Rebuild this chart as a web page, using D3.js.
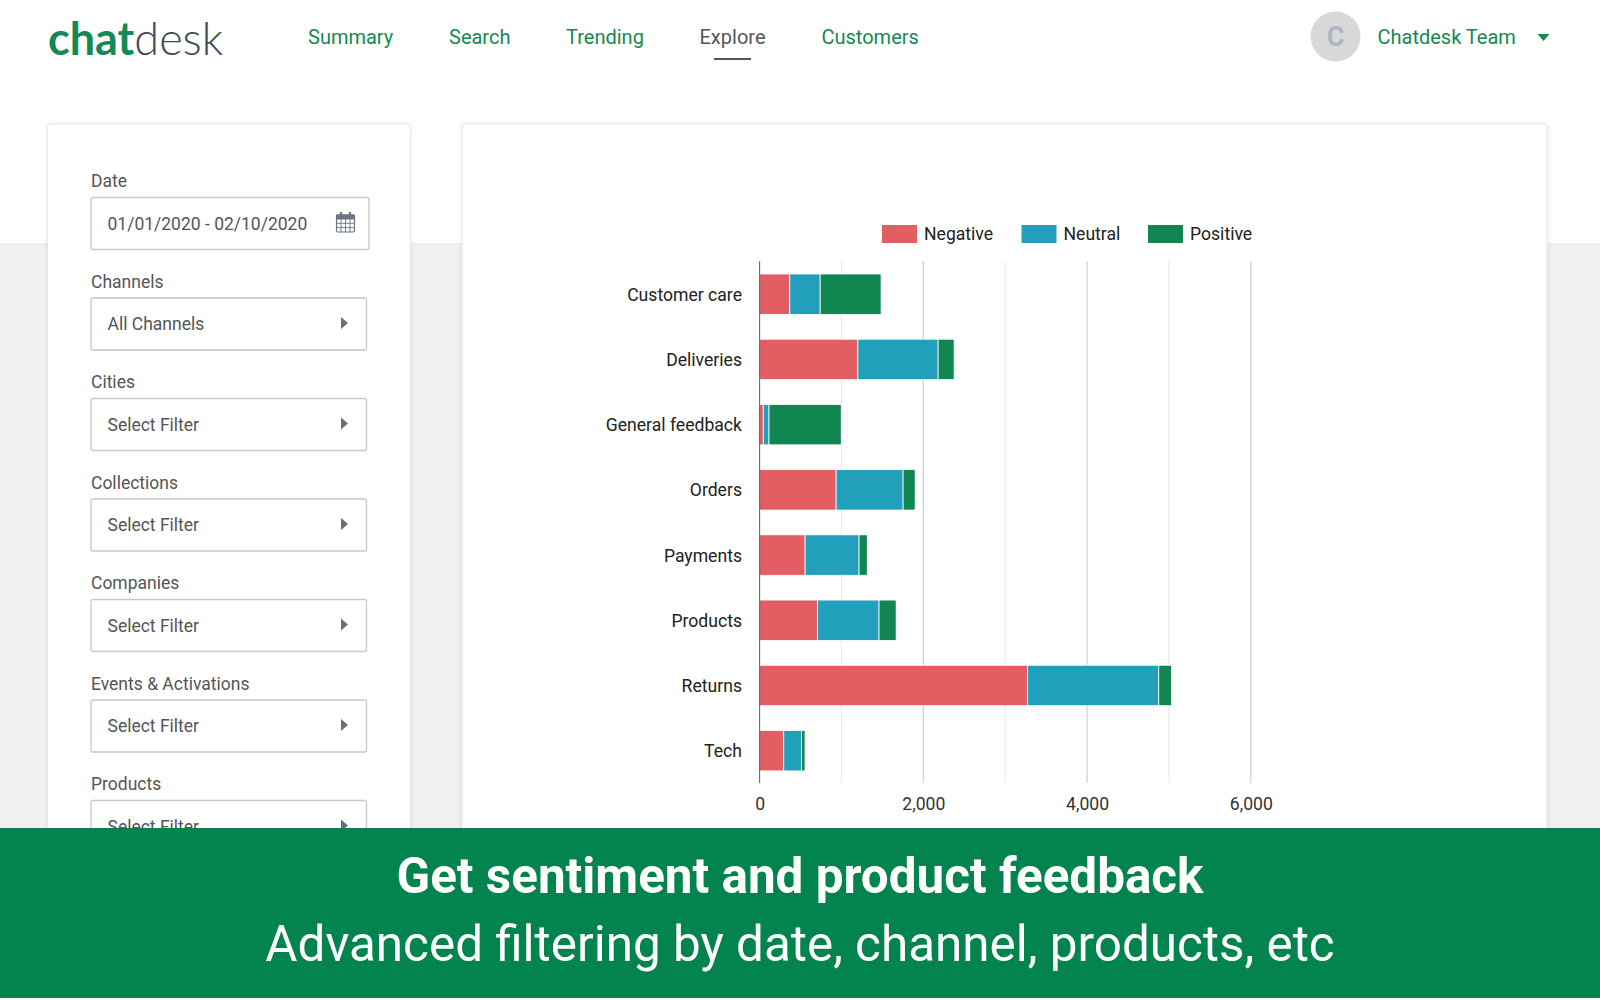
<!DOCTYPE html>
<html><head><meta charset="utf-8">
<script src="https://cdn.jsdelivr.net/npm/d3@7"></script>
<style>html,body{margin:0;padding:0;background:#fff;overflow:hidden}svg{display:block}text{font-family:Roboto,sans-serif}</style>
</head><body><svg id="c" width="1600" height="1000"></svg>
<script>
const categories=["Customer care","Deliveries","General feedback","Orders","Payments","Products","Returns","Tech"];
const seriesNames=["Negative","Neutral","Positive"];
const negative=[369,1200,45,935,556,709,3274,295];
const neutral=[371,981,70,818,659,750,1602,217];
const positive=[744,195,882,147,100,209,156,43];
const xTicks=[0,2000,4000,6000];
const minorTicks=[1000,3000,5000];
const navItems=["Summary","Search","Trending","Explore","Customers"];
const filterLabels=["Date","Channels","Cities","Collections","Companies","Events & Activations","Products"];
const filterValues=["01/01/2020 - 02/10/2020","All Channels","Select Filter","Select Filter","Select Filter","Select Filter","Select Filter"];
const navX=[308,449,566,699.5,821.5];
const colors=["#e25e62","#22a0bb","#118650"];
const svg=d3.select("#c");
const green="#138a4f";
svg.append("rect").attr("width",1600).attr("height",1000).attr("fill","#fff");
svg.append("rect").attr("y",244).attr("width",1600).attr("height",590).attr("fill","#f0f0f0");
svg.append("line").attr("x1",0).attr("x2",1600).attr("y1",244).attr("y2",244).attr("stroke","#e4e4e4");
const card=(x,y,w,h)=>svg.append("rect").attr("x",x).attr("y",y).attr("width",w).attr("height",h).attr("rx",3).attr("fill","#fff").attr("stroke","#e6e6e6").style("filter","drop-shadow(0 0 2px rgba(0,0,0,.08))");
card(47.5,124,363,760);card(462,124,1085,760);
// header
const logo=svg.append("text").attr("x",48).attr("y",55).attr("font-size",45).style("font-family","Lato,sans-serif");
logo.append("tspan").text("chat").attr("fill","#138a53").attr("font-weight",700);
logo.append("tspan").text("desk").attr("fill","#3c4a54").attr("font-weight",300);
svg.selectAll(".nav").data(navItems).join("text").attr("x",(d,i)=>navX[i]).attr("y",44).attr("font-size",20).attr("fill",d=>d==="Explore"?"#555":green).text(d=>d);
svg.append("rect").attr("x",714).attr("y",58).attr("width",37).attr("height",2).attr("fill","#555");
svg.append("circle").attr("cx",1335.5).attr("cy",36.5).attr("r",25).attr("fill","#d8d8d8");
svg.append("text").attr("x",1335.5).attr("y",46).attr("text-anchor","middle").attr("font-size",27).attr("font-weight",700).attr("fill","#aeb6c6").text("C");
svg.append("text").attr("x",1377.5).attr("y",44).attr("font-size",20).attr("fill",green).text("Chatdesk Team");
svg.append("path").attr("d","M1537.5 34H1549.5L1543.5 41Z").attr("fill",green);
// filters
const fy=i=>197.5+i*100.5;
const fl=svg.selectAll(".f").data(filterLabels).join("g");
fl.append("text").attr("x",91).attr("y",(d,i)=>fy(i)-10.5).attr("font-size",17.5).attr("fill","#555").text(d=>d);
fl.append("rect").attr("x",91).attr("y",(d,i)=>fy(i)).attr("width",(d,i)=>i?275.5:278).attr("height",52).attr("rx",2).attr("fill","#fff").attr("stroke","#c8c8c8").attr("stroke-width",1.3);
fl.append("text").attr("x",107.5).attr("y",(d,i)=>fy(i)+32.2).attr("font-size",17.5).attr("fill","#555").text((d,i)=>filterValues[i]);
fl.filter((d,i)=>i>0).append("path").attr("d",(d,i)=>{const y=fy(i+1)+25;return `M341 ${y-6}L348 ${y}L341 ${y+6}Z`}).attr("fill","#667080");
// calendar icon
const cal=svg.append("g").attr("transform","translate(336,212)").attr("fill","none").attr("stroke","#6a7482");
cal.append("rect").attr("x",.5).attr("y",3).attr("width",18).attr("height",17).attr("rx",1.5).attr("stroke-width",1.2);
cal.append("rect").attr("x",.5).attr("y",3).attr("width",18).attr("height",4).attr("fill","#6a7482");
cal.append("path").attr("stroke-width",.9).attr("d",d3.range(1,4).map(i=>`M${.5+i*4.5} 7V20`).join("")+d3.range(1,3).map(i=>`M.5 ${7+i*4.3}H18.5`).join(""));
cal.append("path").attr("stroke-width",2.2).attr("d","M5 0V4M14 0V4");
// chart
const x=d3.scaleLinear().domain([0,6000]).range([759.6,1250.8]);
const y=d3.scaleBand().domain(categories).range([261.6,783.3]).paddingInner(.38).paddingOuter(.19);
const grid=svg.append("g");
grid.selectAll(".mi").data(minorTicks).join("line").attr("x1",x).attr("x2",x).attr("y1",261.3).attr("y2",783).attr("stroke","#ebebeb").attr("stroke-width",1.2);
grid.selectAll(".ma").data(xTicks.slice(1)).join("line").attr("x1",x).attr("x2",x).attr("y1",261.3).attr("y2",783).attr("stroke","#cfcfcf").attr("stroke-width",1.2);
const rows=categories.map((c,i)=>({c,negative:negative[i],neutral:neutral[i],positive:positive[i]}));
const stack=d3.stack().keys(["negative","neutral","positive"])(rows);
svg.selectAll(".s").data(stack).join("g").attr("fill",(d,i)=>colors[i]).selectAll("rect").data(d=>d).join("rect")
 .attr("x",d=>x(d[0])).attr("y",d=>y(d.data.c)).attr("width",d=>x(d[1])-x(d[0])).attr("height",y.bandwidth()).attr("stroke","#fff").attr("stroke-width",.8);
svg.append("line").attr("x1",x(0)).attr("x2",x(0)).attr("y1",261.3).attr("y2",783).attr("stroke","#666").attr("stroke-width",1.1);
const ax=svg.append("g").attr("transform","translate(0,783)").call(d3.axisBottom(x).tickValues(xTicks).tickFormat(d3.format(",")).tickSize(0).tickPadding(15));
ax.select(".domain").remove();
ax.selectAll("text").attr("font-size",17.6).attr("fill","#333").style("font-family","Roboto");
svg.selectAll(".cat").data(categories).join("text").attr("x",742).attr("y",d=>y(d)+y.bandwidth()/2+6.6).attr("text-anchor","end").attr("font-size",17.6).attr("fill","#222").text(d=>d);
// legend
const lgX=[882,1021.5,1148];
const lg=svg.selectAll(".lg").data(seriesNames).join("g");
lg.append("rect").attr("x",(d,i)=>lgX[i]).attr("y",225).attr("width",35).attr("height",18).attr("fill",(d,i)=>colors[i]);
lg.append("text").attr("x",(d,i)=>lgX[i]+42).attr("y",240).attr("font-size",17.6).attr("fill","#222").text(d=>d);
// banner
svg.append("rect").attr("y",828).attr("width",1600).attr("height",170).attr("fill","#03844f");
svg.append("text").attr("x",800).attr("y",893).attr("text-anchor","middle").attr("font-size",49.4).attr("font-weight",700).attr("fill","#fff").text("Get sentiment and product feedback");
svg.append("text").attr("x",800).attr("y",961).attr("text-anchor","middle").attr("font-size",49.4).attr("fill","#fff").text("Advanced filtering by date, channel, products, etc");
</script></body></html>
